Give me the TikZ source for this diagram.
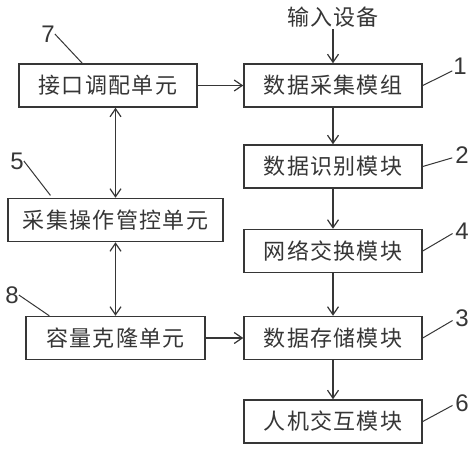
\documentclass[tikz,border=0pt]{standalone}
\usepackage{fontspec}
\setmainfont{Liberation Sans}
\newfontfamily\cjk[LetterSpace=6]{Noto Sans CJK SC}
\usetikzlibrary{arrows.meta,positioning}
\definecolor{ink}{HTML}{363636}
\definecolor{paper}{HTML}{FFFFFF}
\tikzset{
  % ---- blocks ----------------------------------------------------
  unit/.style       = {rectangle, draw=ink, line width=1.5pt, fill=paper,
                       inner sep=0pt, minimum width=178pt,
                       minimum height=43pt, text=ink,
                       font=\cjk\fontsize{22}{24}\selectfont},
  wideunit/.style   = {unit, minimum width=215pt},
  inp/.style        = {text=ink, inner sep=2pt,
                       font=\cjk\fontsize{22}{24}\selectfont},
  % ---- connectors ------------------------------------------------
  flow/.style       = {draw=ink, line width=1.2pt,
                       -{Straight Barb[length=8pt,width=11pt]}},
  both/.style       = {draw=ink, line width=1.2pt,
                       {Straight Barb[length=8pt,width=11pt]}-{Straight Barb[length=8pt,width=11pt]}},
  % ---- reference numerals ----------------------------------------
  tag/.style        = {text=ink, inner sep=0pt,
                       font=\fontsize{24}{24}\selectfont},
  lead/.style       = {draw=ink, line width=1pt},
}

\begin{document}
\begin{tikzpicture}[x=1pt,y=-1pt]
  \useasboundingbox[fill=paper] (0,0) rectangle (474,449);
  % right column
  \node[inp] (input) at (333,17) {输入设备};
  \node[unit] (acq) at (333,85.5) {数据采集模组};
  \node[unit] (ident) at (333,166.5) {数据识别模块};
  \node[unit] (net) at (333,251) {网络交换模块};
  \node[unit] (store) at (333,338) {数据存储模块};
  \node[unit] (hmi) at (333,421.5) {人机交互模块};
  % left column
  \node[unit] (iface) at (108,85.5) {接口调配单元};
  \node[wideunit] (ctrl) at (115.5,220) {采集操作管控单元};
  \node[unit, minimum width=179pt] (clone) at (115.5,338) {容量克隆单元};
  \draw[flow] (input) -- (acq);
  \draw[flow] (acq) -- (ident);
  \draw[flow] (ident) -- (net);
  \draw[flow] (net) -- (store);
  \draw[flow] (store) -- (hmi);
  \draw[flow] (iface) -- (acq);
  \draw[flow] (clone) -- (store);
  \draw[both] (ctrl.north) -- (iface.south -| ctrl.north);
  \draw[both] (ctrl.south) -- (clone.north);
  % numerals
  \node[tag] (n1) at (460,66.5) {1};
  \node[tag] (n2) at (462,155) {2};
  \node[tag] (n4) at (462,231) {4};
  \node[tag] (n3) at (462,318) {3};
  \node[tag] (n6) at (462,403) {6};
  \node[tag] (n7) at (48,34) {7};
  \node[tag] (n5) at (17,161) {5};
  \node[tag] (n8) at (12,295) {8};
  \draw[lead, shorten >=1pt] (acq.east) -- ([yshift=-4pt]n1.west);
  \draw[lead, shorten >=3pt] (ident.east) -- ([yshift=-2pt]n2.west);
  \draw[lead, shorten >=3pt] (net.east) -- ([yshift=-1pt]n4.west);
  \draw[lead, shorten >=3pt] (store.east) -- ([yshift=-1pt]n3.west);
  \draw[lead, shorten >=3pt] (hmi.east) -- ([yshift=-1pt]n6.west);
  \draw[lead] (n7.east) -- ([xshift=64pt]iface.north west);
  \draw[lead, shorten >=3pt] (n5.east) -- ([xshift=45pt]ctrl.north west);
  \draw[lead] (n8.east) -- ([xshift=24pt]clone.north west);
\end{tikzpicture}
\end{document}
